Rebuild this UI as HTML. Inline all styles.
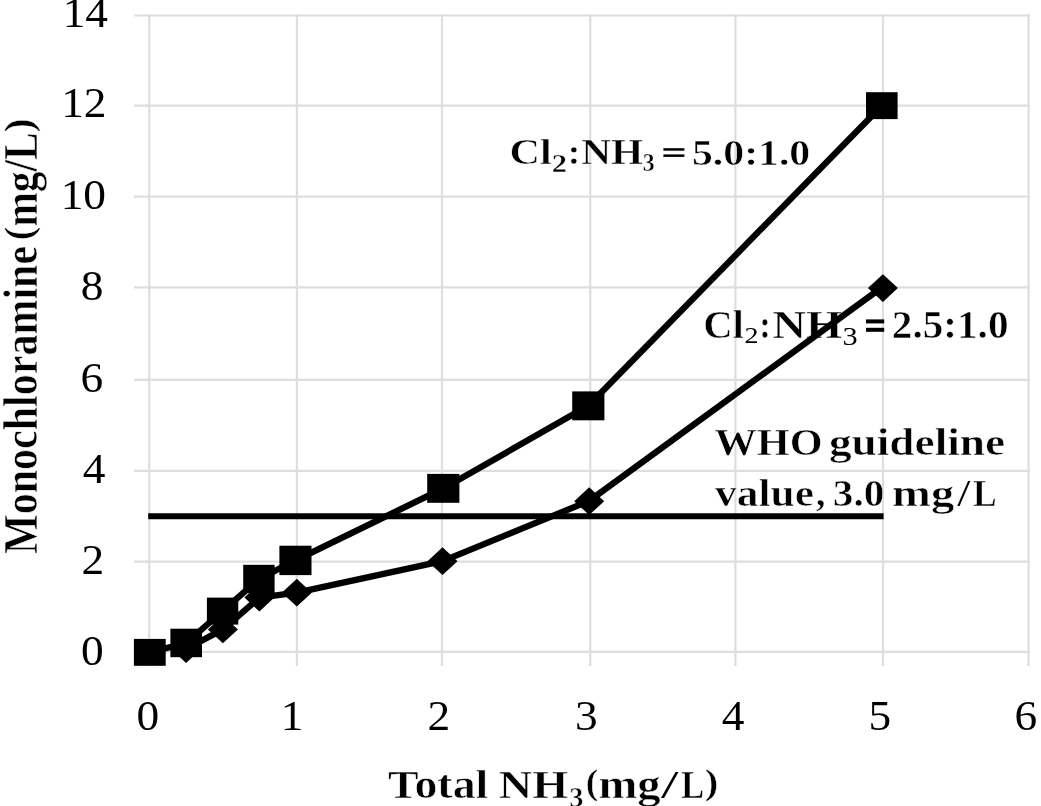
<!DOCTYPE html>
<html><head><meta charset="utf-8"><title>Monochloramine vs Total NH3</title>
<style>
html,body{margin:0;padding:0;background:#fff;}
body{width:1041px;height:806px;overflow:hidden;font-family:"Liberation Serif",serif;}
svg{display:block;position:absolute;left:0;top:0;filter:blur(0.6px);}
text{font-family:"Liberation Serif",serif;fill:#000;}
.b{font-weight:bold;stroke:#fff;stroke-width:0.55px;}
</style></head><body>
<svg width="1041" height="806" viewBox="0 0 1041 806">
<rect width="1041" height="806" fill="#fff"/>

<g stroke="#dedede" stroke-width="2.2" fill="none">
<line x1="134" y1="15.5" x2="1029.8" y2="15.5"/>
<line x1="134" y1="105.6" x2="1029.8" y2="105.6"/>
<line x1="134" y1="196.7" x2="1029.8" y2="196.7"/>
<line x1="134" y1="287.3" x2="1029.8" y2="287.3"/>
<line x1="134" y1="379.9" x2="1029.8" y2="379.9"/>
<line x1="134" y1="470.8" x2="1029.8" y2="470.8"/>
<line x1="134" y1="561.6" x2="1029.8" y2="561.6"/>
<line x1="134" y1="651.9" x2="1029.8" y2="651.9"/>
<line x1="149.2" y1="14.2" x2="149.2" y2="666"/>
<line x1="296.9" y1="14.2" x2="296.9" y2="666"/>
<line x1="442.0" y1="14.2" x2="442.0" y2="666"/>
<line x1="590.2" y1="14.2" x2="590.2" y2="666"/>
<line x1="735.4" y1="14.2" x2="735.4" y2="666"/>
<line x1="883.0" y1="14.2" x2="883.0" y2="666"/>
<line x1="1028.5" y1="14.2" x2="1028.5" y2="666"/>
</g>
<line x1="148.2" y1="516.3" x2="883.6" y2="516.3" stroke="#000" stroke-width="6.0"/>
<text class="" transform="translate(108.00,26.90) scale(1.080,1.000)" font-size="42.00" text-anchor="end" >14</text>
<text class="" transform="translate(106.50,117.40) scale(1.080,1.000)" font-size="42.00" text-anchor="end" >12</text>
<text class="" transform="translate(106.00,209.10) scale(1.080,1.000)" font-size="42.00" text-anchor="end" >10</text>
<text class="" transform="translate(103.50,299.60) scale(1.080,1.000)" font-size="42.00" text-anchor="end" >8</text>
<text class="" transform="translate(103.20,391.60) scale(1.080,1.000)" font-size="42.00" text-anchor="end" >6</text>
<text class="" transform="translate(105.50,482.60) scale(1.080,1.000)" font-size="42.00" text-anchor="end" >4</text>
<text class="" transform="translate(104.20,573.50) scale(1.080,1.000)" font-size="42.00" text-anchor="end" >2</text>
<text class="" transform="translate(103.70,664.60) scale(1.080,1.000)" font-size="42.00" text-anchor="end" >0</text>
<text class="" transform="translate(147.80,729.90) scale(1.080,1.000)" font-size="42.00" text-anchor="middle" >0</text>
<text class="" transform="translate(292.15,729.90) scale(1.080,1.000)" font-size="42.00" text-anchor="middle" >1</text>
<text class="" transform="translate(438.80,729.90) scale(1.080,1.000)" font-size="42.00" text-anchor="middle" >2</text>
<text class="" transform="translate(586.45,729.90) scale(1.080,1.000)" font-size="42.00" text-anchor="middle" >3</text>
<text class="" transform="translate(733.10,729.90) scale(1.080,1.000)" font-size="42.00" text-anchor="middle" >4</text>
<text class="" transform="translate(879.75,729.90) scale(1.080,1.000)" font-size="42.00" text-anchor="middle" >5</text>
<text class="" transform="translate(1025.90,729.90) scale(1.080,1.000)" font-size="42.00" text-anchor="middle" >6</text>
<text class="b" transform="translate(388.01,797.70) scale(1.139,1.000)" font-size="40.30" text-anchor="start" >Total</text>
<text class="b" transform="translate(498.82,797.70) scale(1.153,1.000)" font-size="40.30" text-anchor="start" >NH</text>
<text class="b" transform="translate(569.25,807.00) scale(0.981,1.000)" font-size="29.00" text-anchor="start" >3</text>
<text class="b" transform="translate(585.78,793.80) scale(0.933,0.908)" font-size="40.30" text-anchor="start" >(</text>
<text class="b" transform="translate(598.49,797.70) scale(1.158,1.000)" font-size="40.30" text-anchor="start" >mg</text>
<text class="" transform="translate(660.90,797.70) scale(1.562,1.000)" font-size="40.30" text-anchor="start" >/</text>
<text class="b" transform="translate(681.22,797.70) scale(0.849,1.000)" font-size="40.30" text-anchor="start" >L</text>
<text class="b" transform="translate(704.70,793.80) scale(1.010,0.908)" font-size="40.30" text-anchor="start" >)</text>
<text class="b" transform="translate(37.3,554) rotate(-90) scale(1.064,1.22)" font-size="39.5">Monochloramine</text>
<text class="b" transform="translate(31.8,240.5) rotate(-90) scale(1.05,1.0)" font-size="39.5">(</text>
<text class="b" transform="translate(37.3,226.69) rotate(-90) scale(1.05,1.22)" font-size="39.5">mg/L</text>
<text class="b" transform="translate(31.8,132.22) rotate(-90) scale(1.05,1.0)" font-size="39.5">)</text>
<text class="b" transform="translate(509.47,164.40) scale(1.148,1.000)" font-size="36.80" text-anchor="start" >Cl</text>
<text class="b" transform="translate(551.72,171.50) scale(0.830,0.677)" font-size="36.80" text-anchor="start" >2</text>
<text class="b" transform="translate(567.71,164.40) scale(1.023,1.000)" font-size="36.80" text-anchor="start" >:</text>
<text class="b" transform="translate(581.21,164.40) scale(1.124,1.000)" font-size="36.80" text-anchor="start" >NH</text>
<text class="b" transform="translate(642.82,170.86) scale(0.646,0.659)" font-size="36.80" text-anchor="start" >3</text>
<rect x="663.4" y="148.2" width="21" height="2.5"/><rect x="663.4" y="154.4" width="21" height="2.5"/>
<text class="b" transform="translate(691.93,164.80) scale(1.135,1.000)" font-size="36.80" text-anchor="start" >5.0:1.0</text>
<text class="b" transform="translate(703.14,337.60) scale(1.034,1.000)" font-size="39.40" text-anchor="start" >Cl</text>
<text class="" transform="translate(744.49,343.20) scale(0.713,0.571)" font-size="39.40" text-anchor="start" >2</text>
<text class="b" transform="translate(759.37,337.60) scale(0.877,1.000)" font-size="39.40" text-anchor="start" >:</text>
<text class="b" transform="translate(772.21,337.60) scale(1.190,1.000)" font-size="39.40" text-anchor="start" >NH</text>
<text class="" transform="translate(842.47,345.35) scale(0.772,0.631)" font-size="39.40" text-anchor="start" >3</text>
<rect x="866" y="319.4" width="18.2" height="4"/><rect x="866" y="327.8" width="18.2" height="4"/>
<text class="b" transform="translate(891.87,337.80) scale(1.045,1.000)" font-size="39.40" text-anchor="start" >2.5:1.0</text>
<text class="b" transform="translate(714.51,455.20) scale(1.102,1.000)" font-size="38.40" text-anchor="start" >WHO</text>
<text class="b" transform="translate(828.92,455.20) scale(1.180,1.000)" font-size="38.40" text-anchor="start" >guideline</text>
<text class="b" transform="translate(715.10,505.90) scale(1.131,1.000)" font-size="38.40" text-anchor="start" >value</text>
<text class="b" transform="translate(815.79,505.90) scale(1.021,1.000)" font-size="38.40" text-anchor="start" >,</text>
<text class="b" transform="translate(832.87,505.90) scale(1.075,1.000)" font-size="38.40" text-anchor="start" >3.0</text>
<text class="b" transform="translate(892.09,505.90) scale(1.214,1.000)" font-size="38.40" text-anchor="start" >mg</text>
<text class="" transform="translate(957.20,505.90) scale(1.227,1.000)" font-size="38.40" text-anchor="start" >/</text>
<text class="b" transform="translate(973.10,505.90) scale(0.925,1.000)" font-size="38.40" text-anchor="start" >L</text>
<polyline points="186.1,649.0 222.9,629.4 259.4,597.6 296.8,592.7 442.5,561.2 589.2,500.9 882.9,286.6" fill="none" stroke="#000" stroke-width="6.3" stroke-linejoin="round"/>
<polyline points="149.8,652.4 186.2,643.0 222.6,611.1 258.9,579.0 295.5,560.4 443.3,488.4 588.3,405.8 881.8,105.7" fill="none" stroke="#000" stroke-width="6.3" stroke-linejoin="round"/>
<polygon points="171.1,649.0 186.1,635.1 201.1,649.0 186.1,662.9" fill="#000"/>
<polygon points="207.9,629.4 222.9,615.5 237.9,629.4 222.9,643.3" fill="#000"/>
<polygon points="244.4,597.6 259.4,583.7 274.4,597.6 259.4,611.5" fill="#000"/>
<polygon points="281.8,592.7 296.8,578.8 311.8,592.7 296.8,606.6" fill="#000"/>
<polygon points="427.5,561.2 442.5,547.3 457.5,561.2 442.5,575.1" fill="#000"/>
<polygon points="574.2,501.2 589.2,487.3 604.2,501.2 589.2,515.1" fill="#000"/>
<polygon points="867.9,288.1 882.9,274.2 897.9,288.1 882.9,302.0" fill="#000"/>
<rect x="133.9" y="638.9" width="31.8" height="26.9" fill="#000"/>
<rect x="170.4" y="628.7" width="31.6" height="28.5" fill="#000"/>
<rect x="206.9" y="597.6" width="31.4" height="27.0" fill="#000"/>
<rect x="243.2" y="564.8" width="31.4" height="28.4" fill="#000"/>
<rect x="279.4" y="545.7" width="32.1" height="29.4" fill="#000"/>
<rect x="427.2" y="473.9" width="32.2" height="28.9" fill="#000"/>
<rect x="572.2" y="391.4" width="32.2" height="28.9" fill="#000"/>
<rect x="866.0" y="92.2" width="31.6" height="26.9" fill="#000"/>
</svg></body></html>
